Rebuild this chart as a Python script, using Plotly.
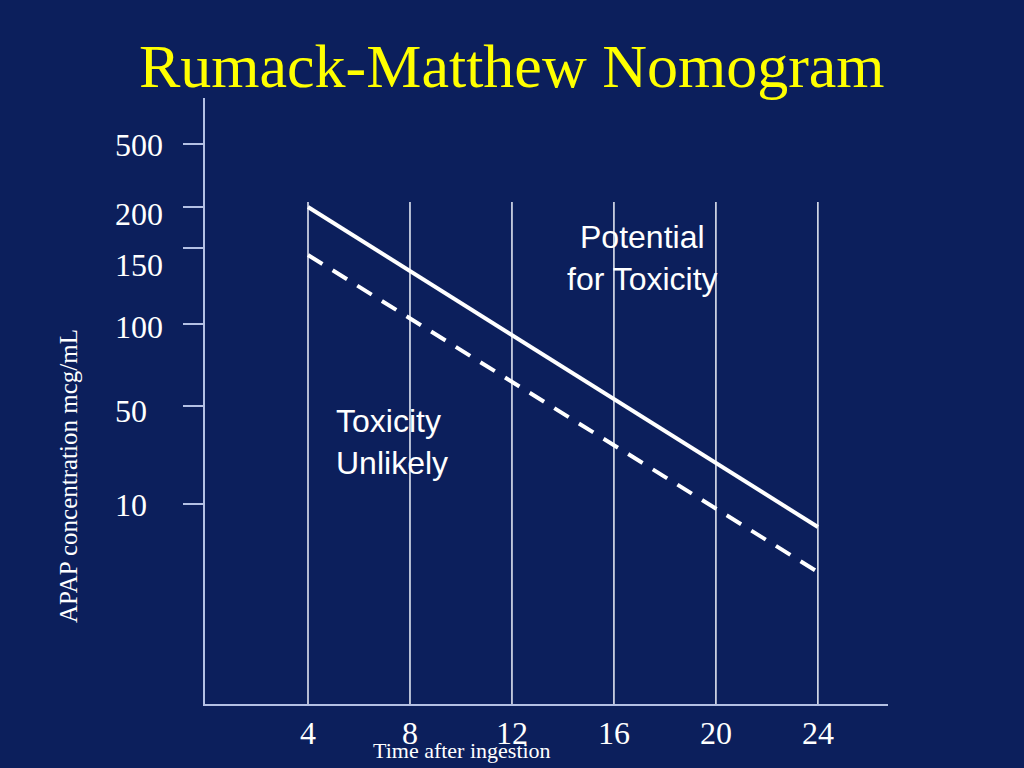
import plotly.graph_objects as go

# ---- data (y values are positions on the slide's stylised concentration axis) ----
hours = [4, 8, 12, 16, 20, 24]
x_tick_labels = ["4", "8", "12", "16", "20", "24"]

y_tick_labels = ["500", "200", "150", "100", "50", "10"]
y_tick_positions = [560, 497, 456, 380, 298, 200]
y_label_positions = [559, 490, 439, 377, 293, 199]

line_hours = [4, 24]
treatment_line = [497, 177]      # solid line
lower_line = [449, 132]          # dashed line
grid_top = 502

BG = "#0c1f5c"
AXIS = "#b4c0e4"
SERIF = "Liberation Serif, Times New Roman, serif"
SANS = "Liberation Sans, Arial, sans-serif"

L, R, T, B = 205, 888, 98, 704
W, H = R - L, B - T


def px_x(px):
    return (px - L) / W


def px_y(py):
    return (B - py) / H


fig = go.Figure()

fig.add_trace(go.Scatter(x=line_hours, y=treatment_line, mode="lines",
                         line=dict(color="white", width=4), hoverinfo="skip"))
fig.add_trace(go.Scatter(x=line_hours, y=lower_line, mode="lines",
                         line=dict(color="white", width=4, dash="17px,12px"),
                         hoverinfo="skip"))

for h in hours:
    fig.add_shape(type="line", xref="x", yref="y", x0=h, x1=h, y0=0, y1=grid_top,
                  line=dict(color="#eef1fa", width=1.5), layer="below")

annotations = []
for lab, yv in zip(y_tick_labels, y_label_positions):
    annotations.append(dict(text=lab, xref="paper", yref="y", x=px_x(113), y=yv,
                            xanchor="left", yanchor="middle", showarrow=False,
                            font=dict(family=SERIF, size=32, color="white")))

annotations += [
    dict(text="Rumack-Matthew Nomogram", xref="paper", yref="paper",
         x=px_x(512), y=px_y(66), xanchor="center", yanchor="middle", showarrow=False,
         font=dict(family=SERIF, size=62, color="#ffff00")),
    dict(text="Potential<br>for Toxicity", xref="paper", yref="paper",
         x=px_x(642), y=px_y(258), xanchor="center", yanchor="middle", showarrow=False,
         align="center", font=dict(family=SANS, size=32, color="white")),
    dict(text="Toxicity<br>Unlikely", xref="paper", yref="paper",
         x=px_x(334), y=px_y(442), xanchor="left", yanchor="middle", showarrow=False,
         align="left", font=dict(family=SANS, size=32, color="white")),
    dict(text="APAP concentration mcg/mL", xref="paper", yref="paper",
         x=px_x(68), y=px_y(476), xanchor="center", yanchor="middle", showarrow=False,
         textangle=-90, font=dict(family=SERIF, size=25, color="white")),
    dict(text="Time after ingestion", xref="paper", yref="paper",
         x=px_x(462), y=px_y(750), xanchor="center", yanchor="middle", showarrow=False,
         font=dict(family=SERIF, size=22, color="white")),
]

fig.update_layout(
    width=1024, height=768,
    margin=dict(l=L, r=1024 - R, t=T, b=768 - B),
    paper_bgcolor=BG, plot_bgcolor=BG,
    showlegend=False,
    annotations=annotations,
    xaxis=dict(range=[-0.04, 26.75], tickvals=hours, ticktext=x_tick_labels,
               showgrid=False, zeroline=False, showline=True, linecolor=AXIS, linewidth=2,
               ticks="", tickfont=dict(family=SERIF, size=32, color="white"),
               fixedrange=True),
    yaxis=dict(range=[0, H], tickvals=y_tick_positions, ticktext=y_tick_labels,
               showticklabels=False, showgrid=False, zeroline=False, showline=True,
               linecolor=AXIS, linewidth=2, ticks="outside", ticklen=20, tickwidth=2,
               tickcolor=AXIS, fixedrange=True),
)

fig.write_html("out.html")
